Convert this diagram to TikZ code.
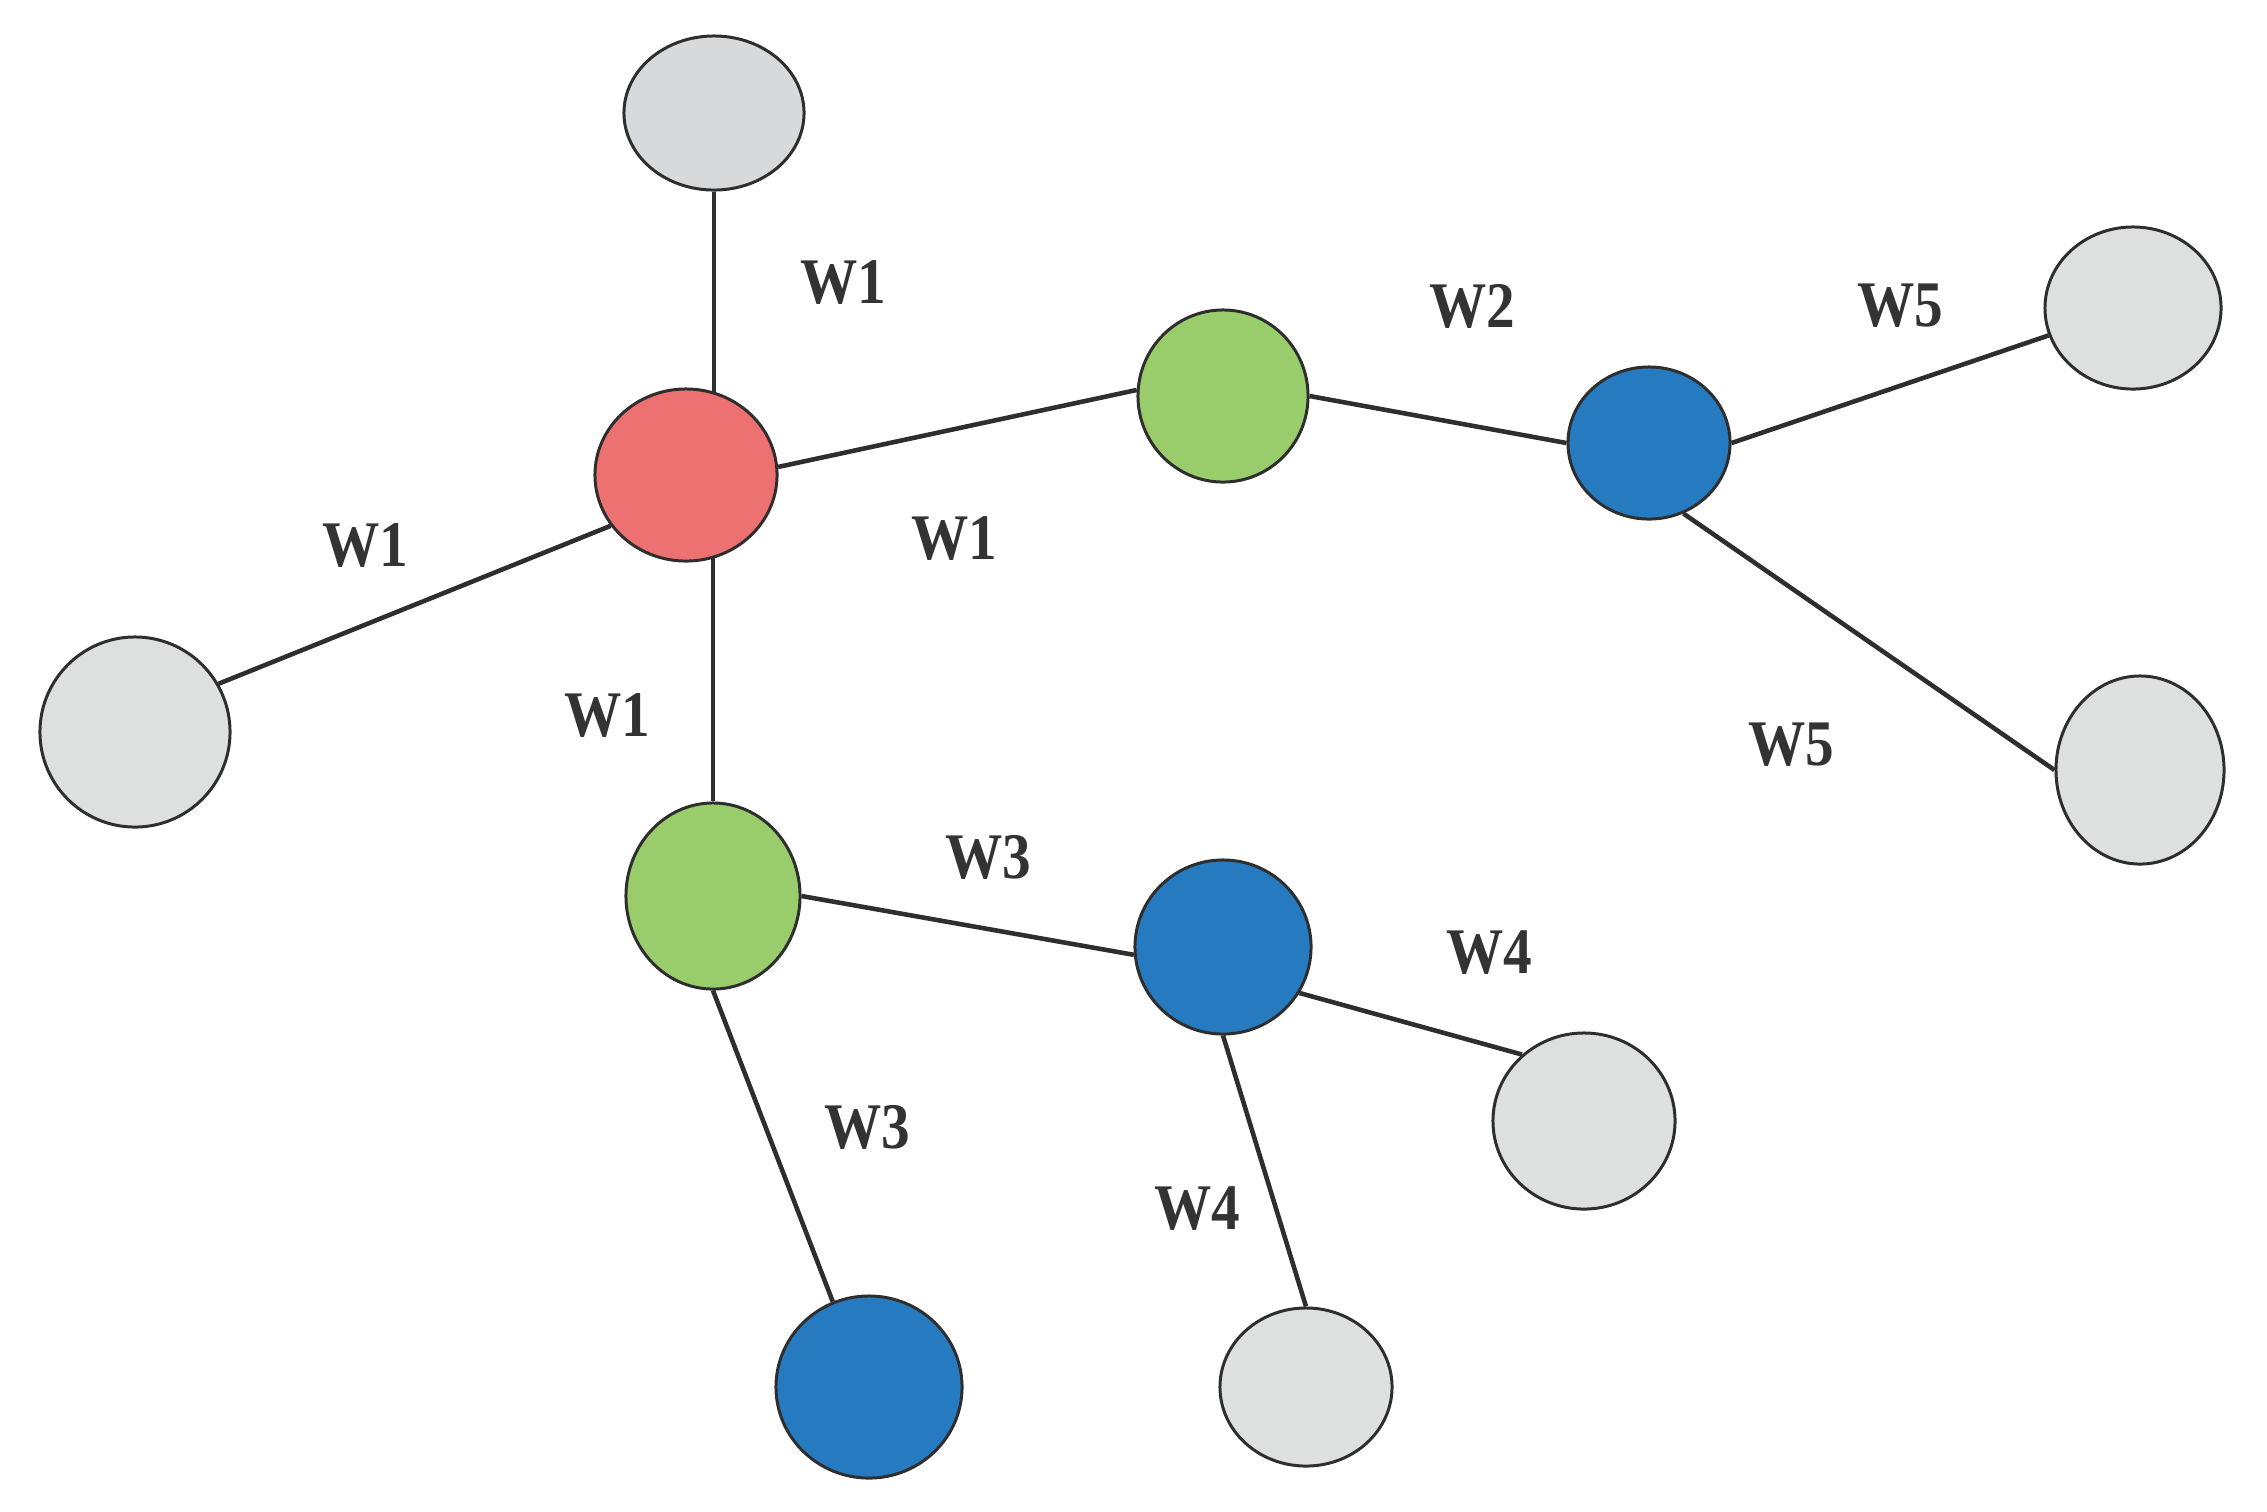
\documentclass[tikz,border=0pt]{standalone}
\usepackage{fontspec}
\setmainfont{Liberation Serif}
\usetikzlibrary{shapes.geometric,backgrounds}
\definecolor{lgray}{HTML}{DEDFDF}
\definecolor{tgray}{HTML}{D8D9DB}
\definecolor{nred}{HTML}{EC7170}
\definecolor{ngreen}{HTML}{99CC6A}
\definecolor{nblue}{HTML}{267BC0}
\definecolor{edgec}{HTML}{2E2E2E}
\definecolor{textc}{HTML}{333333}
\begin{document}
\begin{tikzpicture}[x=0.01cm,y=-0.01cm,
  nd/.style={ellipse,draw=edgec,line width=0.85pt,inner sep=0pt},
  gr/.style={nd,fill=lgray},
  rd/.style={nd,fill=nred},
  gn/.style={nd,fill=ngreen},
  bl/.style={nd,fill=nblue},
  conn/.style={draw=edgec,line width=1.3pt},
  lbl/.style={text=textc,font=\fontsize{18.5}{20}\selectfont\bfseries,inner sep=0pt,xscale=0.88}]
\useasboundingbox (0,0) rectangle (2267,1511);
% nodes
\node[gr,fill=tgray,minimum width=1.80cm,minimum height=1.54cm] (tg) at (714,113) {};
\node[rd,minimum width=1.82cm,minimum height=1.72cm] (r) at (686,475) {};
\node[gr,minimum width=1.90cm,minimum height=1.90cm] (lg) at (135,732) {};
\node[gn,minimum width=1.70cm,minimum height=1.72cm] (g1) at (1223,396) {};
\node[bl,minimum width=1.62cm,minimum height=1.52cm] (b1) at (1649,443) {};
\node[gr,minimum width=1.76cm,minimum height=1.62cm] (ug) at (2133,308) {};
\node[gr,minimum width=1.68cm,minimum height=1.88cm] (lr) at (2140,770) {};
\node[gn,minimum width=1.74cm,minimum height=1.86cm] (g2) at (713,896) {};
\node[bl,minimum width=1.86cm,minimum height=1.82cm] (b3) at (869,1387) {};
\node[bl,minimum width=1.76cm,minimum height=1.74cm] (b2) at (1223,947) {};
\node[gr,minimum width=1.82cm,minimum height=1.76cm] (gm) at (1584,1121) {};
\node[gr,minimum width=1.72cm,minimum height=1.58cm] (gb) at (1306,1387) {};
% connectors
\begin{scope}[on background layer]
\draw[conn] (tg.south) -- (tg.south |- r.center);
\draw[conn] (g2.north |- r.center) -- (g2.north);
\draw[conn] (lg.30) -- (r.214);
\draw[conn] (r.5) -- (g1.176);
\draw[conn] (g1.0) -- (b1.180);
\draw[conn] (b1.0) -- (ug.198);
\draw[conn] (b1.296) -- (lr.180);
\draw[conn] (g2.0) -- (b2.185);
\draw[conn] (g2.270) -- (b3.113);
\draw[conn] (b2.329) -- (gm.133);
\draw[conn] (b2.270) -- (gb.90);
\end{scope}
% labels
\node[lbl] (w1a) at (843,283) {W1};
\node[lbl] (w1b) at (365,545) {W1};
\node[lbl] (w1c) at (954,538) {W1};
\node[lbl] (w1d) at (607,715) {W1};
\node[lbl] (w2) at (1472,306) {W2};
\node[lbl] (w5a) at (1900,306) {W5};
\node[lbl] (w5b) at (1791,745) {W5};
\node[lbl] (w3a) at (988,857) {W3};
\node[lbl] (w3b) at (867,1127) {W3};
\node[lbl] (w4a) at (1489,953) {W4};
\node[lbl] (w4b) at (1197,1209) {W4};
\end{tikzpicture}
\end{document}
